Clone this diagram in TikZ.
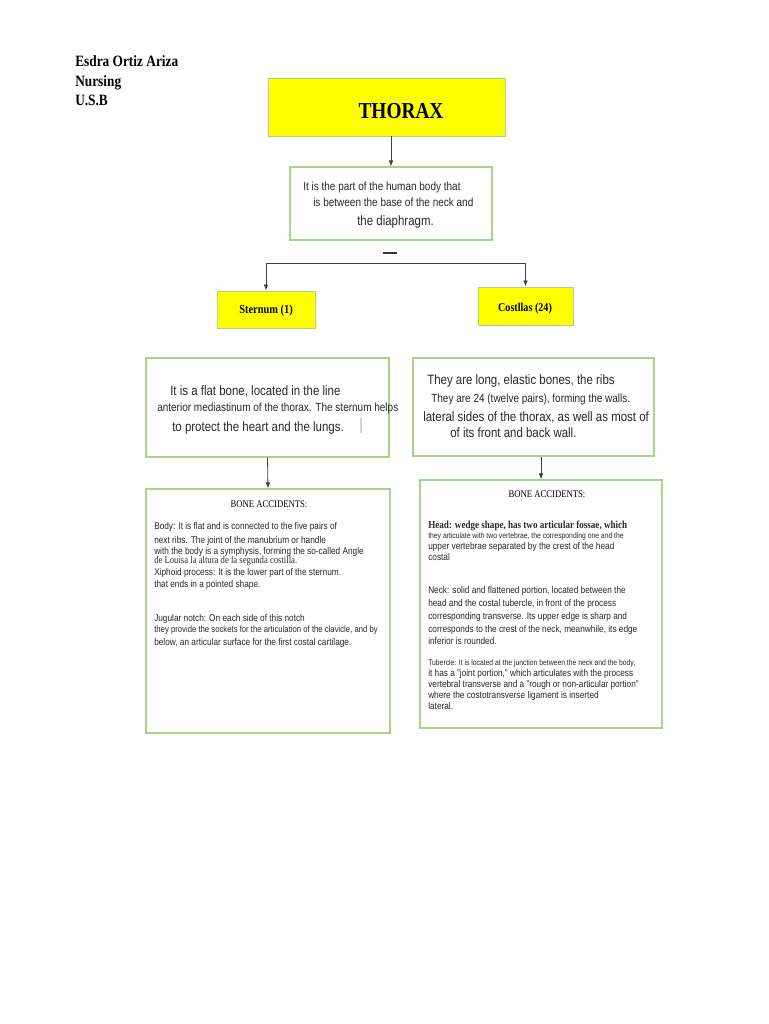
\documentclass[tikz,border=0pt]{standalone}
\usepackage{fontspec}
\setmainfont{Liberation Sans}
\newfontfamily\serifhd{Liberation Serif}
\usetikzlibrary{positioning,fit,arrows.meta}

\definecolor{edgegreen}{RGB}{168,212,138}
\definecolor{boxyellow}{RGB}{255,255,0}
\definecolor{inkgray}{RGB}{40,40,40}

\newcommand\szBig{\fontsize{8.6}{10}\selectfont}
\newcommand\szMid{\fontsize{7.5}{9}\selectfont}
\newcommand\szBody{\fontsize{6.2}{8}\selectfont}
\newcommand\szSmall{\fontsize{5.8}{7}\selectfont}
\newcommand\szTiny{\fontsize{5.1}{6}\selectfont}
\newcommand\tall[1]{\scalebox{1}[1.18]{#1}}

\begin{document}
\begin{tikzpicture}[x=0.75pt, y=-0.75pt,
  ybox/.style={draw=edgegreen, fill=boxyellow, line width=0.7pt, inner sep=0pt},
  gbox/.style={draw=edgegreen, line width=0.9pt, inner sep=0pt},
  flow/.style={line width=0.6pt, draw=black!75, -{Latex[length=4.5pt,width=3.5pt]}},
  hd/.style={inner sep=0pt, anchor=base},
  ln/.style={anchor=base west, inner sep=0pt, text=inkgray}
]
\useasboundingbox[fill=white] (0,0) rectangle (768,1024);

% ------------------------
% Author block
% ------------------------
\foreach \yy/\txt [count=\i] in {67/Esdra Ortiz Ariza, 86/Nursing, 105/U.S.B}
  \node[hd, anchor=base west, font=\serifhd\bfseries\fontsize{10}{12}\selectfont] (author\i) at (75,\yy) {\tall{\txt}};

% ------------------------
% Title and definition
% ------------------------
\node[ybox, fit={(268,78) (505,136)}] (thorax) {};
\node[hd, font=\serifhd\bfseries\fontsize{14.5}{17}\selectfont] (thoraxT) at (401,118) {\tall{THORAX}};

\node[gbox, fit={(290,167) (492,240)}] (defn) {};
\foreach \xx/\yy/\txt [count=\i] in {303/190/{\szMid It is the part of the human body that},
    313/206/{\szMid is between the base of the neck and},
    357/225/{\szBig the diaphragm.}}
  \node[ln] (defnL\i) at (\xx,\yy) {\tall{\txt}};

\draw[flow] (thorax.south -| defn.north) -- (defn.north);

% stray dash under the definition
\draw[line width=1pt, black!80] (383,253) -- (397,253);

% ------------------------
% Sternum / ribs headers
% ------------------------
\node[ybox, fit={(217,291) (315,328)}] (sternum) {};
\node[hd, font=\serifhd\bfseries\fontsize{7.8}{9}\selectfont] (sternumT) at (266,313) {\tall{Sternum (1)}};

\node[ybox, fit={(478,287) (573,325)}] (costillas) {};
\node[hd, font=\serifhd\bfseries\fontsize{7.6}{9}\selectfont] (costillasT) at (525,311) {\tall{Costllas (24)}};

\coordinate (split) at (389,263);
\draw[flow] (split) -| (sternum.north);
\draw[flow] (split) -| (costillas.north);

% ------------------------
% Descriptions
% ------------------------
\node[gbox, fit={(146,358) (389,457)}] (sterDesc) {};
\foreach \xx/\yy/\txt [count=\i] in {170/395/{\szBig It is a flat bone, located in the line},
    157/411/{\szMid anterior mediastinum of the thorax. The sternum helps},
    172/431/{\szBig to protect the heart and the lungs.}}
  \node[ln] (sterL\i) at (\xx,\yy) {\tall{\txt}};
\draw[gray!35, line width=1.2pt] (361,418) -- (361,433);

\node[gbox, fit={(413,358) (654,456)}] (ribsDesc) {};
\foreach \xx/\yy/\txt [count=\i] in {427/384/{\szBig They are long, elastic bones, the ribs},
    431/402/{\szMid They are 24 (twelve pairs), forming the walls.},
    423/421/{\szBig lateral sides of the thorax, as well as most of},
    450/437/{\szBig of its front and back wall.}}
  \node[ln] (ribsL\i) at (\xx,\yy) {\tall{\txt}};

% ------------------------
% Bone accidents
% ------------------------
\node[gbox, fit={(146,489) (390,733)}] (sterAcc) {};
\node[hd, font=\serifhd\fontsize{6.5}{8}\selectfont] (sterAccT) at (269,507) {\tall{BONE ACCIDENTS:}};
\foreach \yy/\txt [count=\i] in {529/{\szBody Body: It is flat and is connected to the five pairs of},
    543/{\szBody next ribs. The joint of the manubrium or handle},
    554/{\szBody with the body is a symphysis, forming the so-called Angle},
    563/{\serifhd\fontsize{6.5}{8}\selectfont de Louisa la altura de la segunda costilla.},
    575/{\szBody Xiphoid process: It is the lower part of the sternum.},
    587/{\szBody that ends in a pointed shape.},
    621/{\szBody Jugular notch: On each side of this notch},
    632/{\szSmall they provide the sockets for the articulation of the clavicle, and by},
    645/{\szBody below, an articular surface for the first costal cartilage.}}
  \node[ln] (sterAccL\i) at (154,\yy) {\tall{\txt}};

\node[gbox, fit={(420,480) (662,728)}] (ribsAcc) {};
\node[hd, font=\serifhd\fontsize{6.5}{8}\selectfont] (ribsAccT) at (547,497) {\tall{BONE ACCIDENTS:}};
\foreach \yy/\txt [count=\i] in {528/{\serifhd\bfseries\fontsize{6.8}{8}\selectfont Head: wedge shape, has two articular fossae, which},
    538/{\szTiny they articulate with two vertebrae, the corresponding one and the},
    549/{\szBody upper vertebrae separated by the crest of the head},
    560/{\szBody costal},
    593/{\szBody Neck: solid and flattened portion, located between the},
    606/{\szBody head and the costal tubercle, in front of the process},
    619/{\szBody corresponding transverse. Its upper edge is sharp and},
    632/{\szBody corresponds to the crest of the neck, meanwhile, its edge},
    644/{\szBody inferior is rounded.},
    665/{\szTiny Tubercle: It is located at the junction between the neck and the body,},
    676/{\szBody it has a "joint portion," which articulates with the process},
    687/{\szBody vertebral transverse and a "rough or non-articular portion"},
    698/{\szBody where the costotransverse ligament is inserted},
    709/{\szBody lateral.}}
  \node[ln] (ribsAccL\i) at (428,\yy) {\tall{\txt}};

\draw[flow] (sterDesc.south) -- (sterAcc.north);
\draw[flow] (ribsDesc.south -| ribsAcc.north) -- (ribsAcc.north);

\end{tikzpicture}
\end{document}
